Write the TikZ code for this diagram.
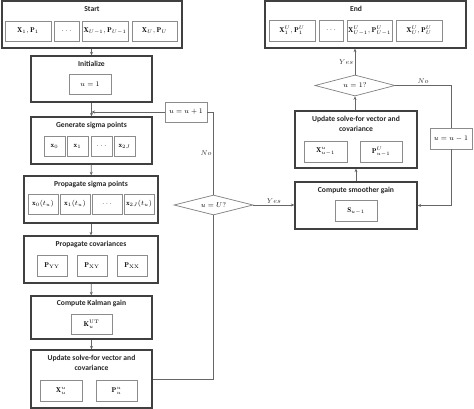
\documentclass[tikz,border=0pt]{standalone}
\usepackage{fontspec}
\newfontfamily\tfont{Carlito}
\usetikzlibrary{shapes.geometric,arrows.meta}
\begin{document}
\begin{tikzpicture}[x=1pt,y=-1pt,
  outer/.style={draw=black!75, line width=1.3pt, inner sep=0pt, fill=white},
  inbox/.style={draw=black!45, line width=0.8pt, inner sep=0pt, font=\fontsize{7}{8}\selectfont},
  ttl/.style={font=\tfont\bfseries\fontsize{7.6}{10}\selectfont, inner sep=0pt, align=center, text=black!85},
  dia/.style={diamond, draw=black!50, line width=0.7pt, aspect=4, inner sep=0pt, font=\fontsize{7}{8}\selectfont},
  conn/.style={draw=black!60, line width=0.8pt},
  arr/.style={conn, -{Stealth[length=3.5pt,width=3pt]}},
  lbl/.style={font=\fontsize{7.5}{9}\selectfont, inner sep=1.5pt, text=black!80}]
\useasboundingbox (0,0) rectangle (474,409);

% ---------- Start ----------
\node[outer, minimum width=180pt, minimum height=47pt] (start) at (92,24.5) {};
\node[ttl] (startT) at (92,9.5) {Start};
\node[inbox, minimum width=46pt, minimum height=20pt] (s1) at (28,31) {$\mathbf{X}_1,\mathbf{P}_1$};
\node[inbox, minimum width=25pt, minimum height=20pt] (s2) at (66.5,31) {$\dots$};
\node[inbox, minimum width=46pt, minimum height=20pt] (s3) at (105,31) {$\mathbf{X}_{U-1},\mathbf{P}_{U-1}$};
\node[inbox, minimum width=45pt, minimum height=20pt] (s4) at (154.5,31) {$\mathbf{X}_U,\mathbf{P}_U$};

% ---------- Initialize ----------
\node[outer, minimum width=121pt, minimum height=46pt] (init) at (91.5,79) {};
\node[ttl] (initT) at (91.5,63.5) {Initialize};
\node[inbox, minimum width=42pt, minimum height=20pt] (u1) at (90,84) {$u = 1$};

% ---------- Generate sigma points ----------
\node[outer, minimum width=121pt, minimum height=47pt] (gen) at (91.5,140.5) {};
\node[ttl] (genT) at (91.5,125) {Generate sigma points};
\node[inbox, minimum width=21pt, minimum height=20pt] (g1) at (54.5,146) {$\mathbf{x}_0$};
\node[inbox, minimum width=21pt, minimum height=20pt] (g2) at (77.5,146) {$\mathbf{x}_1$};
\node[inbox, minimum width=21pt, minimum height=20pt] (g3) at (101.5,146) {$\dots$};
\node[inbox, minimum width=21pt, minimum height=20pt] (g4) at (124.5,146) {$\mathbf{x}_{2J}$};

% ---------- Propagate sigma points ----------
\node[outer, minimum width=134pt, minimum height=47pt] (prop) at (91,199.5) {};
\node[ttl] (propT) at (91,184) {Propagate sigma points};
\node[inbox, minimum width=30pt, minimum height=20pt] (p1) at (43,204) {$\mathbf{x}_0(t_u)$};
\node[inbox, minimum width=30pt, minimum height=20pt] (p2) at (75,204) {$\mathbf{x}_1(t_u)$};
\node[inbox, minimum width=30pt, minimum height=20pt] (p3) at (107,204) {$\dots$};
\node[inbox, minimum width=30pt, minimum height=20pt] (p4) at (139,204) {$\mathbf{x}_{2J}(t_u)$};

% ---------- Propagate covariances ----------
\node[outer, minimum width=134pt, minimum height=47pt] (cov) at (91,259.5) {};
\node[ttl] (covT) at (91,244) {Propagate covariances};
\node[inbox, minimum width=30pt, minimum height=21pt] (c1) at (52,265.5) {$\mathbf{P}_{\mathrm{YY}}$};
\node[inbox, minimum width=30pt, minimum height=21pt] (c2) at (92,265.5) {$\mathbf{P}_{\mathrm{XY}}$};
\node[inbox, minimum width=30pt, minimum height=21pt] (c3) at (132,265.5) {$\mathbf{P}_{\mathrm{XX}}$};

% ---------- Compute Kalman gain ----------
\node[outer, minimum width=121pt, minimum height=43pt] (kal) at (91.5,317.5) {};
\node[ttl] (kalT) at (91.5,303.5) {Compute Kalman gain};
\node[inbox, minimum width=41pt, minimum height=20pt] (k1) at (91.5,324) {$\mathbf{K}_u^{\mathrm{UT}}$};

% ---------- Update (left) ----------
\node[outer, minimum width=121pt, minimum height=58pt] (upd) at (91.5,379) {};
\node[ttl] (updT) at (91.5,363) {Update solve-for vector and\\covariance};
\node[inbox, minimum width=42pt, minimum height=21pt] (l1) at (61,390.5) {$\mathbf{X}_u^u$};
\node[inbox, minimum width=41pt, minimum height=21pt] (l2) at (116.5,390.5) {$\mathbf{P}_u^u$};

% ---------- loop (forward) ----------
\node[inbox, fill=white, minimum width=42pt, minimum height=20pt] (inc) at (186,112) {$u = u + 1$};
\node[dia, minimum width=79pt, minimum height=20pt] (dia1) at (213.5,205) {$u = U?$};

% ---------- Smoother gain ----------
\node[outer, minimum width=122pt, minimum height=47pt] (smooth) at (356,205.5) {};
\node[ttl] (smoothT) at (356,190) {Compute smoother gain};
\node[inbox, minimum width=42pt, minimum height=21pt] (sm1) at (356,210.5) {$\mathbf{S}_{u-1}$};

% ---------- Update (right) ----------
\node[outer, minimum width=122pt, minimum height=57pt] (rupd) at (356,139.5) {};
\node[ttl] (rupdT) at (356,124) {Update solve-for vector and\\covariance};
\node[inbox, minimum width=43pt, minimum height=21pt] (r1) at (325.5,151.5) {$\mathbf{X}_{u-1}^u$};
\node[inbox, minimum width=42pt, minimum height=21pt] (r2) at (381,151.5) {$\mathbf{P}_{u-1}^U$};

% ---------- decision (backward) ----------
\node[dia, minimum width=80pt, minimum height=21pt] (dia2) at (355,85.5) {$u = 1?$};
\node[inbox, fill=white, minimum width=42pt, minimum height=21pt] (dec) at (451,138.5) {$u = u - 1$};

% ---------- End ----------
\node[outer, minimum width=201pt, minimum height=47pt] (end) at (365.5,24.5) {};
\node[ttl] (endT) at (356,9) {End};
\node[inbox, minimum width=46pt, minimum height=21pt] (e1) at (292,30.5) {$\mathbf{X}_1^U,\mathbf{P}_1^U$};
\node[inbox, minimum width=24pt, minimum height=21pt] (e2) at (331,30.5) {$\dots$};
\node[inbox, minimum width=45pt, minimum height=21pt] (e3) at (369.5,30.5) {$\mathbf{X}_{U-1}^U,\mathbf{P}_{U-1}^U$};
\node[inbox, minimum width=46pt, minimum height=21pt] (e4) at (419,30.5) {$\mathbf{X}_U^U,\mathbf{P}_U^U$};

% ---------- connectors ----------
\draw[arr] (start.south -| init.north) -- (init.north);
\draw[arr] (init) -- (gen);
\draw[arr] (gen) -- (prop);
\draw[arr] (prop) -- (cov);
\draw[arr] (cov) -- (kal);
\draw[arr] (kal) -- (upd);
\draw[arr] (inc.west) -- (inc.west -| gen.north);
\draw[conn] (upd.east) -| (dia1.south);
\draw[conn] (dia1.north) |- (inc.east) node[lbl, pos=0.25, left] {$No$};
\draw[arr] (dia1.east) -- (dia1.east -| smooth.west) node[lbl, midway, above] {$Yes$};
\draw[arr] (smooth) -- (rupd);
\draw[arr] (rupd.north -| dia2.south) -- (dia2.south);
\draw[arr] (dia2.north) -- (dia2.north |- end.south) node[lbl, midway, left] {$Yes$};
\draw[conn] (dia2.east) -| (dec.north) node[lbl, pos=0.25, above] {$No$};
\draw[arr] (dec.south) |- (smooth.east);
\end{tikzpicture}
\end{document}
